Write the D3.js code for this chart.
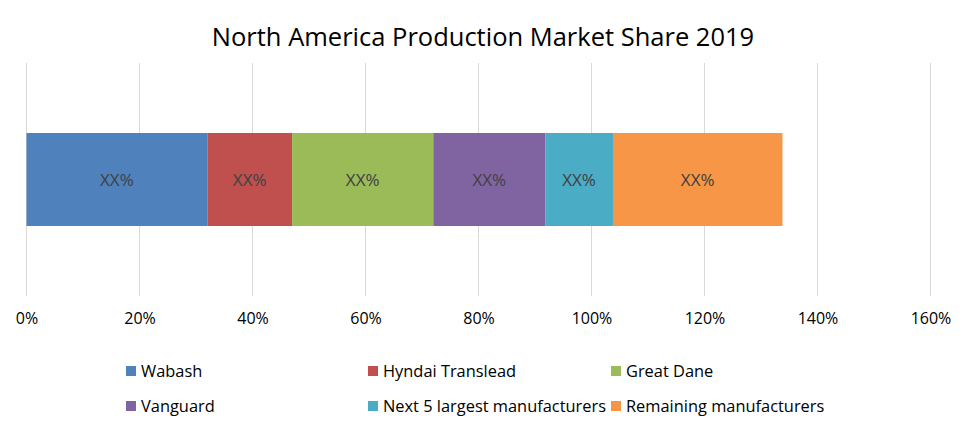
<!DOCTYPE html>
<html>
<head>
<meta charset="utf-8">
<script src="https://cdn.jsdelivr.net/npm/d3@7"></script>
<style>
  body { margin: 0; background: #fff; }
  text { font-family: "Open Sans", sans-serif; }
</style>
</head>
<body>
<div id="canvas"></div>
<script>
var manufacturers = ["Wabash", "Hyndai Translead", "Great Dane", "Vanguard",
  "Next 5 largest manufacturers", "Remaining manufacturers"];
var shares = [0.32, 0.15, 0.25, 0.198, 0.12, 0.30];
var labels = ["XX%", "XX%", "XX%", "XX%", "XX%", "XX%"];
var colors = ["#4F81BD", "#C0504D", "#9BBB59", "#8064A2", "#4BACC6", "#F79646"];
var ticks = [0, 0.2, 0.4, 0.6, 0.8, 1.0, 1.2, 1.4, 1.6];

var width = 965, height = 434;

var svg = d3.select("#canvas").append("svg")
  .attr("width", width)
  .attr("height", height);

svg.append("text")
  .attr("x", 483)
  .attr("y", 46)
  .attr("text-anchor", "middle")
  .attr("font-size", "25.5px")
  .attr("fill", "#000")
  .text("North America Production Market Share 2019");

var x = d3.scaleLinear().domain([0, 1.6]).range([26.5, 930.5]);
// one category, outer padding sized so the bar sits at 134..227
var y = d3.scaleBand().domain(["2019"]).range([63, 296]).paddingOuter(0.7527);

// gridlines
svg.append("g")
  .selectAll("line")
  .data(ticks).enter()
  .append("line")
  .attr("x1", function (d) { return x(d); })
  .attr("x2", function (d) { return x(d); })
  .attr("y1", 63)
  .attr("y2", 296)
  .attr("stroke", "#d9d9d9")
  .attr("stroke-width", 1);

// stacked segments
var stacked = [];
var acc = 0;
shares.forEach(function (v, i) {
  stacked.push({ name: manufacturers[i], x0: acc, x1: acc + v, label: labels[i], color: colors[i] });
  acc += v;
});

var bars = svg.append("g");
bars.selectAll("rect")
  .data(stacked).enter()
  .append("rect")
  .attr("x", function (d) { return x(d.x0); })
  .attr("width", function (d) { return x(d.x1) - x(d.x0); })
  .attr("y", y("2019"))
  .attr("height", y.bandwidth())
  .attr("fill", function (d) { return d.color; });

bars.selectAll("text")
  .data(stacked).enter()
  .append("text")
  .attr("x", function (d) { return (x(d.x0) + x(d.x1)) / 2; })
  .attr("y", y("2019") + y.bandwidth() / 2 + 1)
  .attr("dy", "0.35em")
  .attr("text-anchor", "middle")
  .attr("font-size", "17px")
  .attr("fill", "#404040")
  .text(function (d) { return d.label; });

// axis
var axis = svg.append("g")
  .attr("transform", "translate(0,296)")
  .call(d3.axisBottom(x).tickValues(ticks).tickSize(0).tickPadding(17)
    .tickFormat(d3.format(".0%")));
axis.select(".domain").remove();
axis.selectAll("text")
  .attr("font-family", "'Open Sans', sans-serif")
  .attr("font-size", "16px")
  .attr("fill", "#000");

// legend
var legendX = [126, 368, 611];
var legendY = [371, 406];
var legend = svg.append("g")
  .selectAll("g")
  .data(manufacturers).enter()
  .append("g")
  .attr("transform", function (d, i) {
    return "translate(" + legendX[i % 3] + "," + legendY[Math.floor(i / 3)] + ")";
  });
legend.append("rect")
  .attr("x", 0)
  .attr("y", -5)
  .attr("width", 10)
  .attr("height", 10)
  .attr("fill", function (d, i) { return colors[i]; });
legend.append("text")
  .attr("x", 15)
  .attr("y", 0)
  .attr("dy", "0.35em")
  .attr("font-size", "16.4px")
  .attr("fill", "#000")
  .text(function (d) { return d; });
</script>
</body>
</html>
